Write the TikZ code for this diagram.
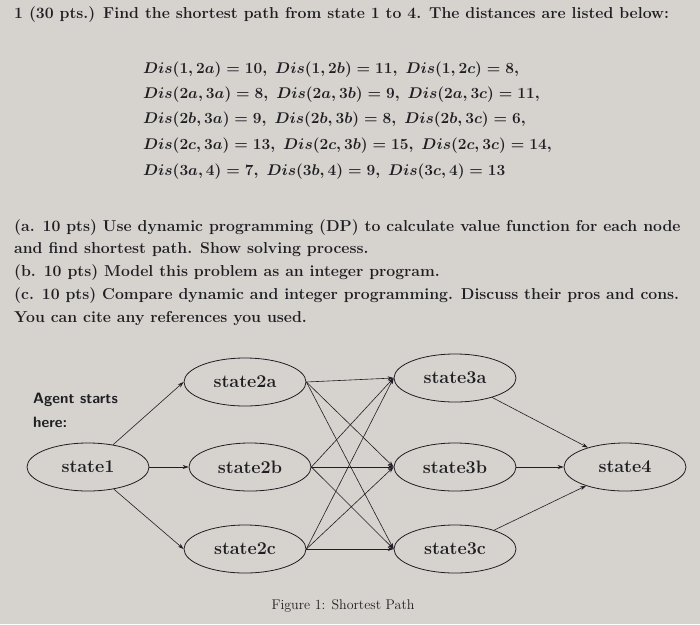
\RequirePackage{fix-cm}
\documentclass[tikz,border=0pt]{standalone}
\usepackage{amsmath}
\usetikzlibrary{shapes.geometric,arrows.meta}
\definecolor{paper}{RGB}{214,210,206}
\definecolor{ink}{RGB}{30,30,35}
\newcommand{\eqA}{{\boldmath$Dis(1,2a)=10,\; Dis(1,2b)=11,\; Dis(1,2c)=8,$}}
\newcommand{\eqB}{{\boldmath$Dis(2a,3a)=8,\; Dis(2a,3b)=9,\; Dis(2a,3c)=11,$}}
\newcommand{\eqC}{{\boldmath$Dis(2b,3a)=9,\; Dis(2b,3b)=8,\; Dis(2b,3c)=6,$}}
\newcommand{\eqD}{{\boldmath$Dis(2c,3a)=13,\; Dis(2c,3b)=15,\; Dis(2c,3c)=14,$}}
\newcommand{\eqE}{{\boldmath$Dis(3a,4)=7,\; Dis(3b,4)=9,\; Dis(3c,4)=13$}}
\begin{document}
\begin{tikzpicture}[x=1pt,y=-1pt,
  st/.style={ellipse,draw=ink,thick,minimum width=122pt,minimum height=48pt,font=\fontsize{18}{20}\selectfont\bfseries,text=ink},
  arr/.style={-{Stealth[length=6pt,width=4pt]},ink,semithick},
  txt/.style={anchor=west,text=ink,font=\fontsize{15.8}{18}\selectfont\bfseries,inner sep=0pt},
  eq/.style={txt,font=\fontsize{15.5}{18}\selectfont\bfseries}]
\fill[paper] (0,0) rectangle (700,624);
\useasboundingbox (0,0) rectangle (700,624);
\node[txt] (t0) at (14,15) {1 (30 pts.) Find the shortest path from state 1 to 4. The distances are listed below:};
\node[eq] (e1) at (143,70) {\eqA};
\node[eq] (e2) at (143,95) {\eqB};
\node[eq] (e3) at (143,120) {\eqC};
\node[eq] (e4) at (143,146) {\eqD};
\node[eq] (e5) at (143,172) {\eqE};
\node[txt] (p1) at (14,228) {(a. 10 pts) Use dynamic programming (DP) to calculate value function for each node};
\node[txt] (p2) at (14,250) {and find shortest path. Show solving process.};
\node[txt] (p3) at (14,273) {(b. 10 pts) Model this problem as an integer program.};
\node[txt] (p4) at (14,296) {(c. 10 pts) Compare dynamic and integer programming. Discuss their pros and cons.};
\node[txt] (p5) at (14,319) {You can cite any references you used.};
\node[txt,align=left,font=\fontsize{15}{24}\selectfont\sffamily\bfseries] (ag) at (33,410) {Agent starts\\here:};
\node[st] (s1) at (88,467) {state1};
\node[st] (s2a) at (245,382) {state2a};
\node[st] (s2b) at (250,467) {state2b};
\node[st] (s2c) at (245,549) {state2c};
\node[st] (s3a) at (455,378) {state3a};
\node[st] (s3b) at (455,467) {state3b};
\node[st] (s3c) at (455,549) {state3c};
\node[st] (s4) at (625,467) {state4};
\draw[arr] (s1) -- (s2a.west);
\draw[arr] (s1) -- (s2b);
\draw[arr] (s1) -- (s2c.west);
\foreach \a in {s2a,s2b,s2c}{\foreach \b in {s3a,s3b,s3c}{\draw[arr] (\a.east) -- (\b.west);}}
\draw[arr] (s3a) -- (s4);
\draw[arr] (s3b) -- (s4);
\draw[arr] (s3c) -- (s4);
\node[text=ink,font=\fontsize{14}{16}\selectfont] (cap) at (343,606) {Figure 1: Shortest Path};
\end{tikzpicture}
\end{document}
